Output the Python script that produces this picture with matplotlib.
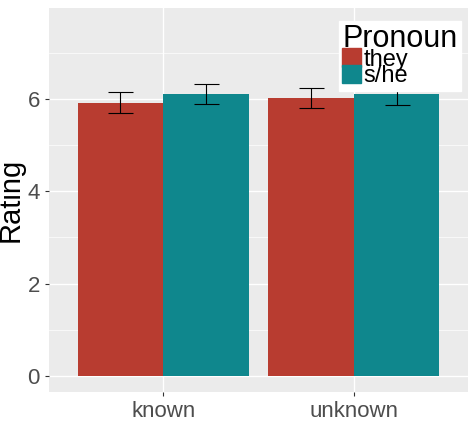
import matplotlib
matplotlib.use("Agg")
import matplotlib.pyplot as plt
import numpy as np
from matplotlib.patches import Patch

plt.rcParams["font.family"] = ["Liberation Sans", "DejaVu Sans"]

categories = ["known", "unknown"]
series = ["they", "s/he"]
they_vals = [5.92, 6.02]
she_vals = [6.10, 6.10]
they_err = [0.23, 0.21]
she_err = [0.22, 0.23]
colors = ["#B83C30", "#0F878D"]

fig = plt.figure(figsize=(4.74, 4.23), dpi=100)
ax = fig.add_axes([49/474, 31/423, 419/474, 384/423])
ax.set_facecolor("#EBEBEB")
x = np.arange(1, len(categories) + 1)
w = 0.45
for i, (vals, errs) in enumerate([(they_vals, they_err), (she_vals, she_err)]):
    xs = x + (i - 0.5) * w
    ax.bar(xs, vals, width=w, color=colors[i], zorder=2)
    ax.errorbar(xs, vals, yerr=errs, fmt="none", ecolor="black", elinewidth=0.8, capsize=9, capthick=0.8, zorder=3)
ax.set_xlim(0.4, 2.6)
ax.set_ylim(-0.35, 7.97)
ax.set_yticks([0, 2, 4, 6])
ax.set_xticks(x)
ax.set_xticklabels(categories)
ax.grid(True, color="white", linewidth=1.0, zorder=0)
ax.set_yticks([1, 3, 5, 7], minor=True)
ax.grid(True, which="minor", axis="y", color="white", linewidth=0.5, zorder=0)
ax.tick_params(which="minor", length=0)
for s in ax.spines.values():
    s.set_visible(False)
ax.tick_params(axis="both", labelsize=16, colors="#333333", length=3, labelcolor="#4D4D4D")
ax.set_ylabel("Rating", fontsize=21, labelpad=2)
handles = [Patch(color=colors[0], label=series[0]), Patch(color=colors[1], label=series[1])]
leg = ax.legend(handles=handles, title="Pronoun", loc="upper right", bbox_to_anchor=(1.0, 0.985),
                fontsize=17, title_fontsize=22, frameon=True, fancybox=False, framealpha=1,
                edgecolor="white", handlelength=0.8, handleheight=0.8, handletextpad=0.1,
                labelspacing=-0.25, borderpad=0.15, borderaxespad=0.3)
leg._legend_box.align = "left"
fig.savefig("out.png", dpi=100)
